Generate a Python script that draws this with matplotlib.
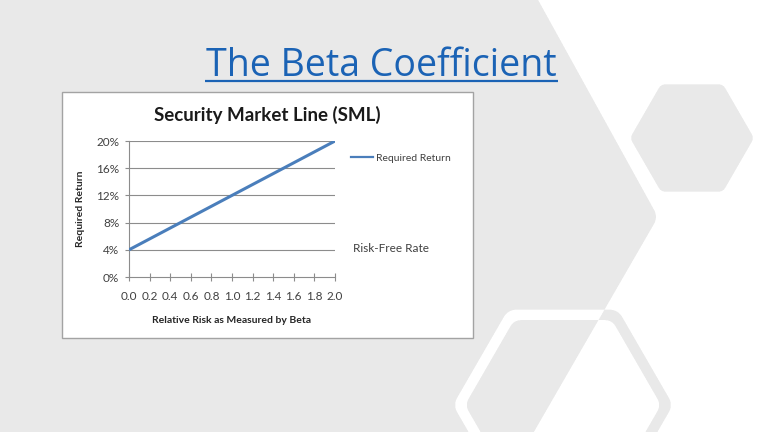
import numpy as np
import matplotlib
matplotlib.use("Agg")
import matplotlib.pyplot as plt
from matplotlib.path import Path
from matplotlib.patches import Rectangle
from matplotlib.lines import Line2D

# ---- data ----
beta = [0.0, 0.2, 0.4, 0.6, 0.8, 1.0, 1.2, 1.4, 1.6, 1.8, 2.0]
required_return = [4.0, 5.6, 7.2, 8.8, 10.4, 12.0, 13.6, 15.2, 16.8, 18.4, 20.0]
y_ticks = [0, 4, 8, 12, 16, 20]
y_tick_labels = ["0%", "4%", "8%", "12%", "16%", "20%"]
x_ticks = [0.0, 0.2, 0.4, 0.6, 0.8, 1.0, 1.2, 1.4, 1.6, 1.8, 2.0]
x_tick_labels = ["0.0", "0.2", "0.4", "0.6", "0.8", "1.0", "1.2", "1.4", "1.6", "1.8", "2.0"]
slide_title = "The Beta Coefficient"
chart_title = "Security Market Line (SML)"
series_name = "Required Return"
x_label = "Relative Risk as Measured by Beta"
y_label = "Required Return"
note_text = "Risk-Free Rate"

W, H = 768, 432
GRAY = np.array([0.914, 0.914, 0.914])
FONT = ["Lato", "DejaVu Sans"]
TFONT = ["Open Sans", "DejaVu Sans"]


def rounded_poly(verts, r, n=10):
    verts = np.asarray(verts, float)
    out = []
    m = len(verts)
    for i in range(m):
        v = verts[i]
        p = verts[i - 1]
        q = verts[(i + 1) % m]
        d1 = (p - v) / np.linalg.norm(p - v)
        d2 = (q - v) / np.linalg.norm(q - v)
        ang = np.arccos(np.clip(np.dot(d1, d2), -1, 1))
        th = ang / 2
        t = r / np.tan(th)
        a = v + d1 * t
        b = v + d2 * t
        bis = (d1 + d2) / np.linalg.norm(d1 + d2)
        c = v + bis * r / np.sin(th)
        a0 = np.arctan2(*(a - c)[::-1])
        b0 = np.arctan2(*(b - c)[::-1])
        da = (b0 - a0 + np.pi) % (2 * np.pi) - np.pi
        for s in np.linspace(0, 1, n):
            ang_s = a0 + da * s
            out.append(c + r * np.array([np.cos(ang_s), np.sin(ang_s)]))
    return Path(np.array(out))


def hexagon(cx, cy, R):
    return [(cx + R * np.cos(np.radians(a)), cy + R * np.sin(np.radians(a)))
            for a in range(0, 360, 60)]


# ---- background raster (XOR of shapes) ----
ss = 3
xs = (np.arange(W * ss) + 0.5) / ss
ys = (np.arange(H * ss) + 0.5) / ss
XX, YY = np.meshgrid(xs, ys)
pts = np.column_stack([XX.ravel(), YY.ravel()])

big = rounded_poly([(-60, -60), (505, -60), (658, 217), (505, 482), (-60, 482)], 14)
ring_out = rounded_poly(hexagon(563, 405, 110), 14)
ring_in = rounded_poly(hexagon(563, 405, 98), 12)
small = rounded_poly(hexagon(692, 138, 62), 8)

m_big = big.contains_points(pts)
m_ring = ring_out.contains_points(pts) & ~ring_in.contains_points(pts)
m_small = small.contains_points(pts)
mask = (m_big ^ m_ring) | m_small
mask = mask.reshape(H * ss, W * ss).astype(float)
mask = mask.reshape(H, ss, W, ss).mean(axis=(1, 3))
img = 1 - mask[..., None] * (1 - GRAY)

fig = plt.figure(figsize=(7.68, 4.32), dpi=100)
bg = fig.add_axes([0, 0, 1, 1])
bg.imshow(img, extent=(0, W, H, 0), interpolation="bilinear")
bg.set_xlim(0, W)
bg.set_ylim(H, 0)
bg.axis("off")

# slide title
bg.text(381, 76, slide_title, ha="center", va="baseline", fontsize=27,
        color="#1b63b5", family=TFONT)
bg.plot([205, 558], [81, 81], color="#1b63b5", lw=1.6, solid_capstyle="butt")

# chart box
bg.add_patch(Rectangle((62, 92), 411, 246, facecolor="white",
                       edgecolor="#a3a3a3", lw=1.0, zorder=2))
bg.text(267, 115, chart_title, ha="center", va="center", fontsize=13.5,
        weight="bold", color="#1a1a1a", family=FONT, zorder=3)
bg.text(353, 249, note_text, ha="left", va="center", fontsize=8.5,
        color="#404040", family=FONT, zorder=3)

# chart axes
ax = fig.add_axes([129 / W, 1 - 277 / H, 206 / W, 136 / H])
ax.set_facecolor("none")
ax.plot(beta, required_return, color="#4a7ebb", lw=2.2, solid_capstyle="butt",
        label=series_name, zorder=3)
ax.set_xlim(0, 2)
ax.set_ylim(0, 20)
ax.set_yticks(y_ticks)
ax.set_yticklabels(y_tick_labels)
ax.set_xticks(x_ticks)
ax.set_xticklabels(x_tick_labels)
for v in y_ticks[1:]:
    ax.axhline(v, color="#8c8c8c", lw=0.8, zorder=1)
for s in ["top", "right"]:
    ax.spines[s].set_visible(False)
for s in ["left", "bottom"]:
    ax.spines[s].set_color("#8c8c8c")
    ax.spines[s].set_linewidth(0.8)
ax.tick_params(axis="x", direction="inout", length=6, width=0.8, color="#8c8c8c",
               labelsize=8.5, labelcolor="#404040", pad=7)
ax.tick_params(axis="y", direction="out", length=3, width=0.8, color="#8c8c8c",
               labelsize=8.5, labelcolor="#404040", pad=4)
for lab in ax.get_xticklabels() + ax.get_yticklabels():
    lab.set_family(FONT)
ax.set_xlabel(x_label, fontsize=7.5, weight="bold", family=FONT, color="#262626",
              labelpad=10)
ax.set_ylabel(y_label, fontsize=7.5, weight="bold", family=FONT, color="#262626",
              labelpad=8)
leg = ax.legend(handles=[Line2D([], [], color="#4a7ebb", lw=1.6, label=series_name)],
                loc="center left", bbox_to_anchor=(351, 158), bbox_transform=bg.transData,
                frameon=False, borderaxespad=0, borderpad=0, handlelength=2.1,
                handletextpad=0.3, prop={"family": FONT, "size": 7.5})
for t in leg.get_texts():
    t.set_color("#404040")

fig.savefig("out.png", dpi=100)
